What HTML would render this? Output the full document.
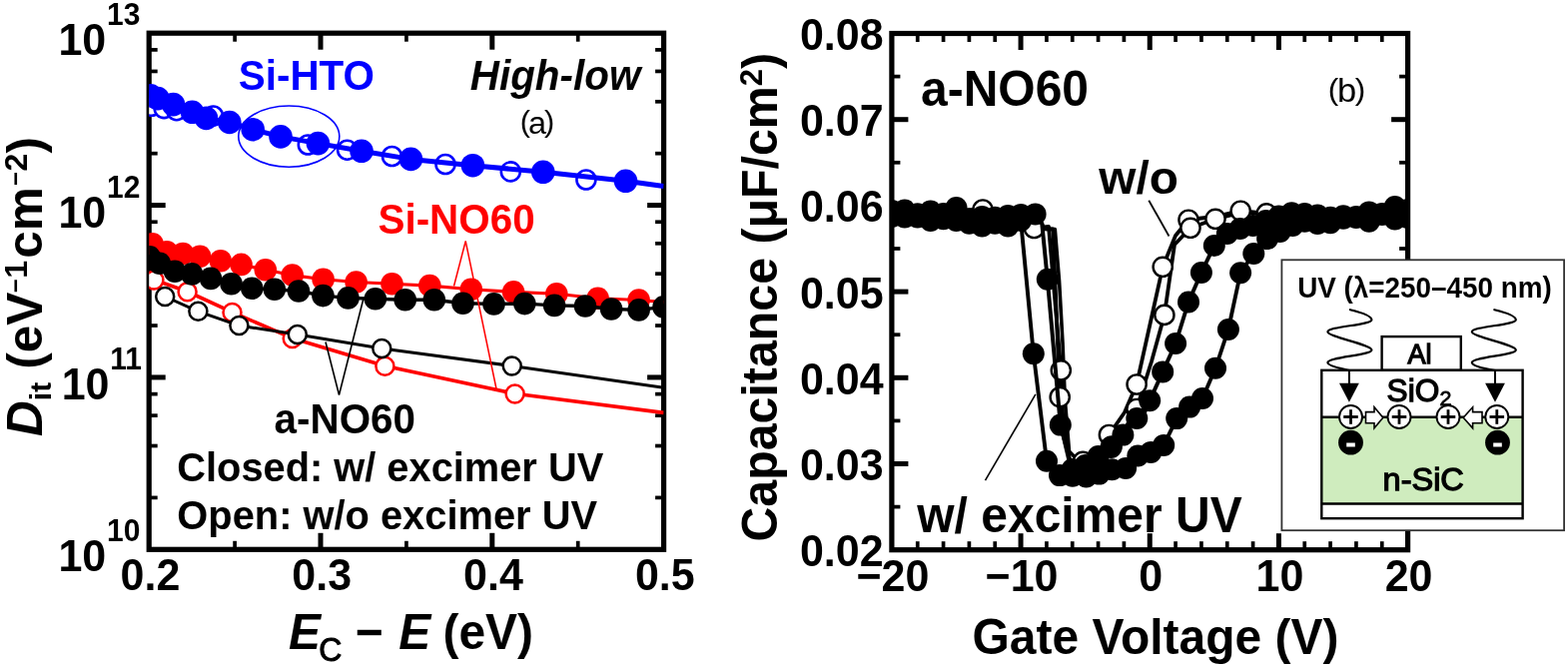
<!DOCTYPE html>
<html lang="en">
<head>
<meta charset="utf-8">
<title>Dit and C-V characteristics</title>
<style>
html,body{margin:0;padding:0;background:#fff;}
body{width:1570px;height:668px;overflow:hidden;}
svg{display:block;font-family:"Liberation Sans", sans-serif;}
text{font-family:"Liberation Sans", sans-serif;}
</style>
</head>
<body>
<svg width="1570" height="668" viewBox="0 0 1570 668">
<rect width="1570" height="668" fill="#fff"/>
<defs><clipPath id="clipL"><rect x="149.2" y="33.2" width="515.40" height="517.10"/></clipPath>
<clipPath id="clipR"><rect x="892.9" y="33.5" width="516.7" height="517.2"/></clipPath></defs>
<line x1="321.00" y1="550.30" x2="321.00" y2="533.80" stroke="#000" stroke-width="5.0" stroke-linecap="butt"/>
<line x1="321.00" y1="33.20" x2="321.00" y2="49.70" stroke="#000" stroke-width="5.0" stroke-linecap="butt"/>
<line x1="492.80" y1="550.30" x2="492.80" y2="533.80" stroke="#000" stroke-width="5.0" stroke-linecap="butt"/>
<line x1="492.80" y1="33.20" x2="492.80" y2="49.70" stroke="#000" stroke-width="5.0" stroke-linecap="butt"/>
<line x1="235.10" y1="550.30" x2="235.10" y2="541.80" stroke="#000" stroke-width="3.7" stroke-linecap="butt"/>
<line x1="235.10" y1="33.20" x2="235.10" y2="41.70" stroke="#000" stroke-width="3.7" stroke-linecap="butt"/>
<line x1="406.90" y1="550.30" x2="406.90" y2="541.80" stroke="#000" stroke-width="3.7" stroke-linecap="butt"/>
<line x1="406.90" y1="33.20" x2="406.90" y2="41.70" stroke="#000" stroke-width="3.7" stroke-linecap="butt"/>
<line x1="578.70" y1="550.30" x2="578.70" y2="541.80" stroke="#000" stroke-width="3.7" stroke-linecap="butt"/>
<line x1="578.70" y1="33.20" x2="578.70" y2="41.70" stroke="#000" stroke-width="3.7" stroke-linecap="butt"/>
<line x1="149.20" y1="498.41" x2="157.70" y2="498.41" stroke="#000" stroke-width="3.7" stroke-linecap="butt"/>
<line x1="664.60" y1="498.41" x2="656.10" y2="498.41" stroke="#000" stroke-width="3.7" stroke-linecap="butt"/>
<line x1="149.20" y1="446.52" x2="157.70" y2="446.52" stroke="#000" stroke-width="3.7" stroke-linecap="butt"/>
<line x1="664.60" y1="446.52" x2="656.10" y2="446.52" stroke="#000" stroke-width="3.7" stroke-linecap="butt"/>
<line x1="149.20" y1="416.17" x2="157.70" y2="416.17" stroke="#000" stroke-width="3.7" stroke-linecap="butt"/>
<line x1="664.60" y1="416.17" x2="656.10" y2="416.17" stroke="#000" stroke-width="3.7" stroke-linecap="butt"/>
<line x1="149.20" y1="394.64" x2="157.70" y2="394.64" stroke="#000" stroke-width="3.7" stroke-linecap="butt"/>
<line x1="664.60" y1="394.64" x2="656.10" y2="394.64" stroke="#000" stroke-width="3.7" stroke-linecap="butt"/>
<line x1="149.20" y1="377.93" x2="165.70" y2="377.93" stroke="#000" stroke-width="5.0" stroke-linecap="butt"/>
<line x1="664.60" y1="377.93" x2="648.10" y2="377.93" stroke="#000" stroke-width="5.0" stroke-linecap="butt"/>
<line x1="149.20" y1="326.05" x2="157.70" y2="326.05" stroke="#000" stroke-width="3.7" stroke-linecap="butt"/>
<line x1="664.60" y1="326.05" x2="656.10" y2="326.05" stroke="#000" stroke-width="3.7" stroke-linecap="butt"/>
<line x1="149.20" y1="274.16" x2="157.70" y2="274.16" stroke="#000" stroke-width="3.7" stroke-linecap="butt"/>
<line x1="664.60" y1="274.16" x2="656.10" y2="274.16" stroke="#000" stroke-width="3.7" stroke-linecap="butt"/>
<line x1="149.20" y1="243.81" x2="157.70" y2="243.81" stroke="#000" stroke-width="3.7" stroke-linecap="butt"/>
<line x1="664.60" y1="243.81" x2="656.10" y2="243.81" stroke="#000" stroke-width="3.7" stroke-linecap="butt"/>
<line x1="149.20" y1="222.27" x2="157.70" y2="222.27" stroke="#000" stroke-width="3.7" stroke-linecap="butt"/>
<line x1="664.60" y1="222.27" x2="656.10" y2="222.27" stroke="#000" stroke-width="3.7" stroke-linecap="butt"/>
<line x1="149.20" y1="205.57" x2="165.70" y2="205.57" stroke="#000" stroke-width="5.0" stroke-linecap="butt"/>
<line x1="664.60" y1="205.57" x2="648.10" y2="205.57" stroke="#000" stroke-width="5.0" stroke-linecap="butt"/>
<line x1="149.20" y1="153.68" x2="157.70" y2="153.68" stroke="#000" stroke-width="3.7" stroke-linecap="butt"/>
<line x1="664.60" y1="153.68" x2="656.10" y2="153.68" stroke="#000" stroke-width="3.7" stroke-linecap="butt"/>
<line x1="149.20" y1="101.79" x2="157.70" y2="101.79" stroke="#000" stroke-width="3.7" stroke-linecap="butt"/>
<line x1="664.60" y1="101.79" x2="656.10" y2="101.79" stroke="#000" stroke-width="3.7" stroke-linecap="butt"/>
<line x1="149.20" y1="71.44" x2="157.70" y2="71.44" stroke="#000" stroke-width="3.7" stroke-linecap="butt"/>
<line x1="664.60" y1="71.44" x2="656.10" y2="71.44" stroke="#000" stroke-width="3.7" stroke-linecap="butt"/>
<line x1="149.20" y1="49.90" x2="157.70" y2="49.90" stroke="#000" stroke-width="3.7" stroke-linecap="butt"/>
<line x1="664.60" y1="49.90" x2="656.10" y2="49.90" stroke="#000" stroke-width="3.7" stroke-linecap="butt"/>
<rect x="149.2" y="33.2" width="515.40" height="517.10" fill="none" stroke="#000" stroke-width="5.2"/>
<g clip-path="url(#clipL)">
<circle cx="152.0" cy="106.3" r="9.5" fill="#fff" stroke="#0000ff" stroke-width="2.6"/>
<circle cx="164.2" cy="108.6" r="9.5" fill="#fff" stroke="#0000ff" stroke-width="2.6"/>
<circle cx="176.8" cy="110.7" r="9.5" fill="#fff" stroke="#0000ff" stroke-width="2.6"/>
<circle cx="213.5" cy="116.0" r="9.5" fill="#fff" stroke="#0000ff" stroke-width="2.6"/>
<circle cx="308.3" cy="145.0" r="9.5" fill="#fff" stroke="#0000ff" stroke-width="2.6"/>
<circle cx="347.6" cy="150.2" r="9.5" fill="#fff" stroke="#0000ff" stroke-width="2.6"/>
<circle cx="392.5" cy="156.5" r="9.5" fill="#fff" stroke="#0000ff" stroke-width="2.6"/>
<circle cx="446.0" cy="164.5" r="9.5" fill="#fff" stroke="#0000ff" stroke-width="2.6"/>
<circle cx="511.3" cy="171.9" r="9.5" fill="#fff" stroke="#0000ff" stroke-width="2.6"/>
<circle cx="586.9" cy="180.0" r="9.5" fill="#fff" stroke="#0000ff" stroke-width="2.6"/>
<polyline points="150.8,95.9 158.0,98.6 173.5,104.6 192.5,112.3 206.5,118.4 229.8,122.5 253.2,129.7 281.0,136.9 318.4,143.6 362.0,151.3 411.4,159.4 473.4,165.7 543.8,172.3 626.5,181.3 664.6,186.5" fill="none" stroke="#0000ff" stroke-width="5.0" stroke-linejoin="round"/>
<circle cx="150.8" cy="95.9" r="11.8" fill="#0000ff"/>
<circle cx="158.0" cy="98.6" r="11.8" fill="#0000ff"/>
<circle cx="173.5" cy="104.6" r="11.8" fill="#0000ff"/>
<circle cx="192.5" cy="112.3" r="11.8" fill="#0000ff"/>
<circle cx="206.5" cy="118.4" r="11.8" fill="#0000ff"/>
<circle cx="229.8" cy="122.5" r="11.8" fill="#0000ff"/>
<circle cx="253.2" cy="129.7" r="11.8" fill="#0000ff"/>
<circle cx="281.0" cy="136.9" r="11.8" fill="#0000ff"/>
<circle cx="318.4" cy="143.6" r="11.8" fill="#0000ff"/>
<circle cx="362.0" cy="151.3" r="11.8" fill="#0000ff"/>
<circle cx="411.4" cy="159.4" r="11.8" fill="#0000ff"/>
<circle cx="473.4" cy="165.7" r="11.8" fill="#0000ff"/>
<circle cx="543.8" cy="172.3" r="11.8" fill="#0000ff"/>
<circle cx="626.5" cy="181.3" r="11.8" fill="#0000ff"/>
<ellipse cx="289.3" cy="136.6" rx="50.5" ry="30.6" fill="none" stroke="#0000ff" stroke-width="1.6"/>
<polyline points="154.4,280.3 187.6,292.0 232.5,312.7 292.7,338.7 385.4,366.5 515.6,394.3 664.6,413.4" fill="none" stroke="#ff0000" stroke-width="3.6" stroke-linejoin="round"/>
<circle cx="154.4" cy="280.6" r="9.0" fill="#fff" stroke="#ff0000" stroke-width="2.5"/>
<circle cx="187.6" cy="292.3" r="9.0" fill="#fff" stroke="#ff0000" stroke-width="2.5"/>
<circle cx="232.5" cy="313.0" r="9.0" fill="#fff" stroke="#ff0000" stroke-width="2.5"/>
<circle cx="292.7" cy="339.0" r="9.0" fill="#fff" stroke="#ff0000" stroke-width="2.5"/>
<circle cx="385.4" cy="366.8" r="9.0" fill="#fff" stroke="#ff0000" stroke-width="2.5"/>
<circle cx="515.6" cy="394.6" r="9.0" fill="#fff" stroke="#ff0000" stroke-width="2.5"/>
<polyline points="165.2,297.0 198.4,311.8 239.4,326.1 297.8,335.1 382.3,348.9 512.7,366.5 664.6,388.2" fill="none" stroke="#000" stroke-width="3.0" stroke-linejoin="round"/>
<circle cx="165.2" cy="297.0" r="9.0" fill="#fff" stroke="#000" stroke-width="2.5"/>
<circle cx="198.4" cy="311.8" r="9.0" fill="#fff" stroke="#000" stroke-width="2.5"/>
<circle cx="239.4" cy="326.1" r="9.0" fill="#fff" stroke="#000" stroke-width="2.5"/>
<circle cx="297.8" cy="335.1" r="9.0" fill="#fff" stroke="#000" stroke-width="2.5"/>
<circle cx="382.3" cy="348.9" r="9.0" fill="#fff" stroke="#000" stroke-width="2.5"/>
<circle cx="512.7" cy="366.5" r="9.0" fill="#fff" stroke="#000" stroke-width="2.5"/>
<polyline points="152.6,244.2 167.0,252.3 183.1,254.1 200.2,256.8 220.9,261.3 241.5,264.9 265.8,270.2 292.7,275.6 323.6,279.8 356.6,282.5 392.5,284.3 430.3,286.1 471.8,289.7 514.1,292.4 557.3,294.2 598.6,298.7 639.6,300.5 664.6,302.6" fill="none" stroke="#ff0000" stroke-width="3.1" stroke-linejoin="round"/>
<circle cx="152.6" cy="244.2" r="11.3" fill="#ff0000"/>
<circle cx="167.0" cy="252.3" r="11.3" fill="#ff0000"/>
<circle cx="183.1" cy="254.1" r="11.3" fill="#ff0000"/>
<circle cx="200.2" cy="256.8" r="11.3" fill="#ff0000"/>
<circle cx="220.9" cy="261.3" r="11.3" fill="#ff0000"/>
<circle cx="241.5" cy="264.9" r="11.3" fill="#ff0000"/>
<circle cx="265.8" cy="270.2" r="11.3" fill="#ff0000"/>
<circle cx="292.7" cy="275.6" r="11.3" fill="#ff0000"/>
<circle cx="323.6" cy="279.8" r="11.3" fill="#ff0000"/>
<circle cx="356.6" cy="282.5" r="11.3" fill="#ff0000"/>
<circle cx="392.5" cy="284.3" r="11.3" fill="#ff0000"/>
<circle cx="430.3" cy="286.1" r="11.3" fill="#ff0000"/>
<circle cx="471.8" cy="289.7" r="11.3" fill="#ff0000"/>
<circle cx="514.1" cy="292.4" r="11.3" fill="#ff0000"/>
<circle cx="557.3" cy="294.2" r="11.3" fill="#ff0000"/>
<circle cx="598.6" cy="298.7" r="11.3" fill="#ff0000"/>
<circle cx="639.6" cy="300.5" r="11.3" fill="#ff0000"/>
<polyline points="149.9,257.4 159.8,263.7 175.0,271.7 192.1,274.4 211.0,278.9 231.6,284.3 252.3,288.8 274.8,289.7 299.0,291.5 323.4,296.1 348.5,298.4 375.8,299.3 405.7,300.2 434.8,300.2 463.5,303.8 494.5,304.4 525.3,304.1 555.1,305.9 586.0,306.5 612.1,309.5 639.6,310.4 664.5,307.4" fill="none" stroke="#000" stroke-width="3.4" stroke-linejoin="round"/>
<circle cx="149.9" cy="257.4" r="11.3" fill="#000"/>
<circle cx="159.8" cy="263.7" r="11.3" fill="#000"/>
<circle cx="175.0" cy="271.7" r="11.3" fill="#000"/>
<circle cx="192.1" cy="274.4" r="11.3" fill="#000"/>
<circle cx="211.0" cy="278.9" r="11.3" fill="#000"/>
<circle cx="231.6" cy="284.3" r="11.3" fill="#000"/>
<circle cx="252.3" cy="288.8" r="11.3" fill="#000"/>
<circle cx="274.8" cy="289.7" r="11.3" fill="#000"/>
<circle cx="299.0" cy="291.5" r="11.3" fill="#000"/>
<circle cx="323.4" cy="296.1" r="11.3" fill="#000"/>
<circle cx="348.5" cy="298.4" r="11.3" fill="#000"/>
<circle cx="375.8" cy="299.3" r="11.3" fill="#000"/>
<circle cx="405.7" cy="300.2" r="11.3" fill="#000"/>
<circle cx="434.8" cy="300.2" r="11.3" fill="#000"/>
<circle cx="463.5" cy="303.8" r="11.3" fill="#000"/>
<circle cx="494.5" cy="304.4" r="11.3" fill="#000"/>
<circle cx="525.3" cy="304.1" r="11.3" fill="#000"/>
<circle cx="555.1" cy="305.9" r="11.3" fill="#000"/>
<circle cx="586.0" cy="306.5" r="11.3" fill="#000"/>
<circle cx="612.1" cy="309.5" r="11.3" fill="#000"/>
<circle cx="639.6" cy="310.4" r="11.3" fill="#000"/>
<circle cx="664.5" cy="307.4" r="11.3" fill="#000"/>
</g>
<polyline points="454.5,286.5 466.2,241.5 497.0,389.5" fill="none" stroke="#ff0000" stroke-width="1.5" stroke-linejoin="miter"/>
<polyline points="326.0,342.5 339.5,395.5 363.8,299.5" fill="none" stroke="#000" stroke-width="1.6" stroke-linejoin="miter"/>
<text transform="translate(58.40 572.30) scale(1 1.035)" font-size="43" font-weight="bold" font-style="normal" text-anchor="start" fill="#000" >10</text>
<text transform="translate(107.00 542.40) scale(1 1.035)" font-size="30" font-weight="bold" font-style="normal" text-anchor="start" fill="#000" >10</text>
<text transform="translate(61.70 399.93) scale(1 1.035)" font-size="43" font-weight="bold" font-style="normal" text-anchor="start" fill="#000" >10</text>
<text transform="translate(110.30 370.03) scale(1 1.035)" font-size="30" font-weight="bold" font-style="normal" text-anchor="start" fill="#000" >11</text>
<text transform="translate(58.40 227.57) scale(1 1.035)" font-size="43" font-weight="bold" font-style="normal" text-anchor="start" fill="#000" >10</text>
<text transform="translate(107.00 197.67) scale(1 1.035)" font-size="30" font-weight="bold" font-style="normal" text-anchor="start" fill="#000" >12</text>
<text transform="translate(58.40 55.20) scale(1 1.035)" font-size="43" font-weight="bold" font-style="normal" text-anchor="start" fill="#000" >10</text>
<text transform="translate(107.00 25.30) scale(1 1.035)" font-size="30" font-weight="bold" font-style="normal" text-anchor="start" fill="#000" >13</text>
<text transform="translate(150.40 591.20) scale(1 1.035)" font-size="43" font-weight="bold" font-style="normal" text-anchor="middle" fill="#000" >0.2</text>
<text transform="translate(322.20 591.20) scale(1 1.035)" font-size="43" font-weight="bold" font-style="normal" text-anchor="middle" fill="#000" >0.3</text>
<text transform="translate(494.00 591.20) scale(1 1.035)" font-size="43" font-weight="bold" font-style="normal" text-anchor="middle" fill="#000" >0.4</text>
<text transform="translate(665.80 591.20) scale(1 1.035)" font-size="43" font-weight="bold" font-style="normal" text-anchor="middle" fill="#000" >0.5</text>
<text transform="translate(41.6 436.9) rotate(-90) scale(1 1.005)" font-size="49.5" font-weight="bold"><tspan font-style="italic">D</tspan><tspan font-size="30" dy="9.8" dx="0">it</tspan><tspan dy="-9.8" dx="-0.6"> (eV</tspan><tspan font-size="24" dy="-17.5" dx="-0.6">−</tspan><tspan font-size="32" dy="2.5" dx="0.5">1</tspan><tspan dy="15" dx="2.2">cm</tspan><tspan font-size="24" dy="-17.5" dx="1.2">−</tspan><tspan font-size="32" dy="2.5" dx="0.5">2</tspan><tspan dy="15" dx="0.2">)</tspan></text>
<text transform="translate(288.9 650.3) scale(1 1.035)" font-size="48" font-weight="bold"><tspan font-style="italic">E</tspan><tspan font-size="32" font-weight="normal" stroke="#000" stroke-width="1.0" dy="11.3" dx="-1.6">C</tspan><tspan dy="-11.3"> − </tspan><tspan font-style="italic" dx="2.2">E</tspan><tspan dx="-1.2"> (eV)</tspan></text>
<text transform="translate(238.80 90.00) scale(1 1.035)" font-size="40.4" font-weight="bold" font-style="normal" text-anchor="start" fill="#0000ff" >Si-HTO</text>
<text transform="translate(470.80 90.00) scale(1 1.035)" font-size="40.4" font-weight="bold" font-style="italic" text-anchor="start" fill="#000" >High-low</text>
<text transform="translate(378.50 234.00) scale(1 1.035)" font-size="40.4" font-weight="bold" font-style="normal" text-anchor="start" fill="#ff0000" >Si-NO60</text>
<text transform="translate(274.60 433.80) scale(1 1.035)" font-size="40.4" font-weight="bold" font-style="normal" text-anchor="start" fill="#000" >a-NO60</text>
<text transform="translate(177.30 482.00) scale(1 1.035)" font-size="39.8" font-weight="bold" font-style="normal" text-anchor="start" fill="#000" >Closed: w/ excimer UV</text>
<text transform="translate(177.30 530.20) scale(1 1.035)" font-size="39.85" font-weight="bold" font-style="normal" text-anchor="start" fill="#000" >Open: w/o excimer UV</text>
<text transform="translate(520.80 131.60) scale(1 0.98)" font-size="30.7" font-weight="normal" font-style="normal" text-anchor="start" fill="#000" >(<tspan font-size="32.5" dy="2.6" dx="-2.0">a</tspan><tspan font-size="30.7" dy="-2.6" dx="-2.0">)</tspan></text>
<line x1="918.74" y1="550.70" x2="918.74" y2="542.20" stroke="#000" stroke-width="3.7" stroke-linecap="butt"/>
<line x1="918.74" y1="33.50" x2="918.74" y2="42.00" stroke="#000" stroke-width="3.7" stroke-linecap="butt"/>
<line x1="944.57" y1="550.70" x2="944.57" y2="542.20" stroke="#000" stroke-width="3.7" stroke-linecap="butt"/>
<line x1="944.57" y1="33.50" x2="944.57" y2="42.00" stroke="#000" stroke-width="3.7" stroke-linecap="butt"/>
<line x1="970.40" y1="550.70" x2="970.40" y2="542.20" stroke="#000" stroke-width="3.7" stroke-linecap="butt"/>
<line x1="970.40" y1="33.50" x2="970.40" y2="42.00" stroke="#000" stroke-width="3.7" stroke-linecap="butt"/>
<line x1="996.24" y1="550.70" x2="996.24" y2="542.20" stroke="#000" stroke-width="3.7" stroke-linecap="butt"/>
<line x1="996.24" y1="33.50" x2="996.24" y2="42.00" stroke="#000" stroke-width="3.7" stroke-linecap="butt"/>
<line x1="1022.07" y1="550.70" x2="1022.07" y2="534.20" stroke="#000" stroke-width="5.0" stroke-linecap="butt"/>
<line x1="1022.07" y1="33.50" x2="1022.07" y2="50.00" stroke="#000" stroke-width="5.0" stroke-linecap="butt"/>
<line x1="1047.91" y1="550.70" x2="1047.91" y2="542.20" stroke="#000" stroke-width="3.7" stroke-linecap="butt"/>
<line x1="1047.91" y1="33.50" x2="1047.91" y2="42.00" stroke="#000" stroke-width="3.7" stroke-linecap="butt"/>
<line x1="1073.74" y1="550.70" x2="1073.74" y2="542.20" stroke="#000" stroke-width="3.7" stroke-linecap="butt"/>
<line x1="1073.74" y1="33.50" x2="1073.74" y2="42.00" stroke="#000" stroke-width="3.7" stroke-linecap="butt"/>
<line x1="1099.58" y1="550.70" x2="1099.58" y2="542.20" stroke="#000" stroke-width="3.7" stroke-linecap="butt"/>
<line x1="1099.58" y1="33.50" x2="1099.58" y2="42.00" stroke="#000" stroke-width="3.7" stroke-linecap="butt"/>
<line x1="1125.41" y1="550.70" x2="1125.41" y2="542.20" stroke="#000" stroke-width="3.7" stroke-linecap="butt"/>
<line x1="1125.41" y1="33.50" x2="1125.41" y2="42.00" stroke="#000" stroke-width="3.7" stroke-linecap="butt"/>
<line x1="1151.25" y1="550.70" x2="1151.25" y2="534.20" stroke="#000" stroke-width="5.0" stroke-linecap="butt"/>
<line x1="1151.25" y1="33.50" x2="1151.25" y2="50.00" stroke="#000" stroke-width="5.0" stroke-linecap="butt"/>
<line x1="1177.09" y1="550.70" x2="1177.09" y2="542.20" stroke="#000" stroke-width="3.7" stroke-linecap="butt"/>
<line x1="1177.09" y1="33.50" x2="1177.09" y2="42.00" stroke="#000" stroke-width="3.7" stroke-linecap="butt"/>
<line x1="1202.92" y1="550.70" x2="1202.92" y2="542.20" stroke="#000" stroke-width="3.7" stroke-linecap="butt"/>
<line x1="1202.92" y1="33.50" x2="1202.92" y2="42.00" stroke="#000" stroke-width="3.7" stroke-linecap="butt"/>
<line x1="1228.75" y1="550.70" x2="1228.75" y2="542.20" stroke="#000" stroke-width="3.7" stroke-linecap="butt"/>
<line x1="1228.75" y1="33.50" x2="1228.75" y2="42.00" stroke="#000" stroke-width="3.7" stroke-linecap="butt"/>
<line x1="1254.59" y1="550.70" x2="1254.59" y2="542.20" stroke="#000" stroke-width="3.7" stroke-linecap="butt"/>
<line x1="1254.59" y1="33.50" x2="1254.59" y2="42.00" stroke="#000" stroke-width="3.7" stroke-linecap="butt"/>
<line x1="1280.42" y1="550.70" x2="1280.42" y2="534.20" stroke="#000" stroke-width="5.0" stroke-linecap="butt"/>
<line x1="1280.42" y1="33.50" x2="1280.42" y2="50.00" stroke="#000" stroke-width="5.0" stroke-linecap="butt"/>
<line x1="1306.26" y1="550.70" x2="1306.26" y2="542.20" stroke="#000" stroke-width="3.7" stroke-linecap="butt"/>
<line x1="1306.26" y1="33.50" x2="1306.26" y2="42.00" stroke="#000" stroke-width="3.7" stroke-linecap="butt"/>
<line x1="1332.09" y1="550.70" x2="1332.09" y2="542.20" stroke="#000" stroke-width="3.7" stroke-linecap="butt"/>
<line x1="1332.09" y1="33.50" x2="1332.09" y2="42.00" stroke="#000" stroke-width="3.7" stroke-linecap="butt"/>
<line x1="1357.93" y1="550.70" x2="1357.93" y2="542.20" stroke="#000" stroke-width="3.7" stroke-linecap="butt"/>
<line x1="1357.93" y1="33.50" x2="1357.93" y2="42.00" stroke="#000" stroke-width="3.7" stroke-linecap="butt"/>
<line x1="1383.76" y1="550.70" x2="1383.76" y2="542.20" stroke="#000" stroke-width="3.7" stroke-linecap="butt"/>
<line x1="1383.76" y1="33.50" x2="1383.76" y2="42.00" stroke="#000" stroke-width="3.7" stroke-linecap="butt"/>
<line x1="892.90" y1="507.60" x2="901.40" y2="507.60" stroke="#000" stroke-width="3.7" stroke-linecap="butt"/>
<line x1="1409.60" y1="507.60" x2="1401.10" y2="507.60" stroke="#000" stroke-width="3.7" stroke-linecap="butt"/>
<line x1="892.90" y1="464.50" x2="909.40" y2="464.50" stroke="#000" stroke-width="5.0" stroke-linecap="butt"/>
<line x1="1409.60" y1="464.50" x2="1393.10" y2="464.50" stroke="#000" stroke-width="5.0" stroke-linecap="butt"/>
<line x1="892.90" y1="421.40" x2="901.40" y2="421.40" stroke="#000" stroke-width="3.7" stroke-linecap="butt"/>
<line x1="1409.60" y1="421.40" x2="1401.10" y2="421.40" stroke="#000" stroke-width="3.7" stroke-linecap="butt"/>
<line x1="892.90" y1="378.30" x2="909.40" y2="378.30" stroke="#000" stroke-width="5.0" stroke-linecap="butt"/>
<line x1="1409.60" y1="378.30" x2="1393.10" y2="378.30" stroke="#000" stroke-width="5.0" stroke-linecap="butt"/>
<line x1="892.90" y1="335.20" x2="901.40" y2="335.20" stroke="#000" stroke-width="3.7" stroke-linecap="butt"/>
<line x1="1409.60" y1="335.20" x2="1401.10" y2="335.20" stroke="#000" stroke-width="3.7" stroke-linecap="butt"/>
<line x1="892.90" y1="292.10" x2="909.40" y2="292.10" stroke="#000" stroke-width="5.0" stroke-linecap="butt"/>
<line x1="1409.60" y1="292.10" x2="1393.10" y2="292.10" stroke="#000" stroke-width="5.0" stroke-linecap="butt"/>
<line x1="892.90" y1="249.00" x2="901.40" y2="249.00" stroke="#000" stroke-width="3.7" stroke-linecap="butt"/>
<line x1="1409.60" y1="249.00" x2="1401.10" y2="249.00" stroke="#000" stroke-width="3.7" stroke-linecap="butt"/>
<line x1="892.90" y1="205.90" x2="909.40" y2="205.90" stroke="#000" stroke-width="5.0" stroke-linecap="butt"/>
<line x1="1409.60" y1="205.90" x2="1393.10" y2="205.90" stroke="#000" stroke-width="5.0" stroke-linecap="butt"/>
<line x1="892.90" y1="162.80" x2="901.40" y2="162.80" stroke="#000" stroke-width="3.7" stroke-linecap="butt"/>
<line x1="1409.60" y1="162.80" x2="1401.10" y2="162.80" stroke="#000" stroke-width="3.7" stroke-linecap="butt"/>
<line x1="892.90" y1="119.70" x2="909.40" y2="119.70" stroke="#000" stroke-width="5.0" stroke-linecap="butt"/>
<line x1="1409.60" y1="119.70" x2="1393.10" y2="119.70" stroke="#000" stroke-width="5.0" stroke-linecap="butt"/>
<line x1="892.90" y1="76.60" x2="901.40" y2="76.60" stroke="#000" stroke-width="3.7" stroke-linecap="butt"/>
<line x1="1409.60" y1="76.60" x2="1401.10" y2="76.60" stroke="#000" stroke-width="3.7" stroke-linecap="butt"/>
<rect x="892.9" y="33.5" width="516.70" height="517.20" fill="none" stroke="#000" stroke-width="5.2"/>
<g clip-path="url(#clipR)">
<polyline points="892.9,212.0 983.3,210.0 1035.4,228.4 1050.0,227.0 1062.3,370.8 1064.5,425.0 1071.0,462.0 1084.2,462.4 1098.0,460.0 1110.4,435.5 1126.0,413.0 1138.1,385.0 1164.2,267.3 1177.0,236.0 1190.0,220.0 1216.0,217.0 1242.0,211.0 1268.0,214.0 1300.0,214.0 1409.6,213.0" fill="none" stroke="#000" stroke-width="3.8" stroke-linejoin="round"/>
<polyline points="892.9,216.0 1035.4,229.0 1054.3,229.5 1061.2,397.7 1063.5,432.0 1071.0,464.0 1084.2,466.0 1099.0,464.0 1113.0,447.0 1126.0,430.0 1138.0,409.5 1153.0,362.0 1165.9,315.4 1176.0,245.0 1192.0,228.3 1217.0,219.3 1242.2,213.0 1268.2,214.0 1409.6,214.0" fill="none" stroke="#000" stroke-width="3.8" stroke-linejoin="round"/>
<polyline points="1035.4,229.0 1056.3,229.5 1060.6,282.0 1064.0,343.0 1066.3,400.0 1070.5,452.0 1084.2,466.0" fill="none" stroke="#000" stroke-width="3.6" stroke-linejoin="round"/>
<circle cx="984.0" cy="210.0" r="9.6" fill="#fff" stroke="#000" stroke-width="2.4"/>
<circle cx="1035.4" cy="228.5" r="9.6" fill="#fff" stroke="#000" stroke-width="2.4"/>
<circle cx="1062.3" cy="370.8" r="9.6" fill="#fff" stroke="#000" stroke-width="2.4"/>
<circle cx="1084.2" cy="462.4" r="9.6" fill="#fff" stroke="#000" stroke-width="2.4"/>
<circle cx="1110.4" cy="435.5" r="9.6" fill="#fff" stroke="#000" stroke-width="2.4"/>
<circle cx="1138.1" cy="385.0" r="9.6" fill="#fff" stroke="#000" stroke-width="2.4"/>
<circle cx="1164.2" cy="267.3" r="9.6" fill="#fff" stroke="#000" stroke-width="2.4"/>
<circle cx="1190.0" cy="220.2" r="9.6" fill="#fff" stroke="#000" stroke-width="2.4"/>
<circle cx="1217.0" cy="219.3" r="9.6" fill="#fff" stroke="#000" stroke-width="2.4"/>
<circle cx="1242.2" cy="211.2" r="9.6" fill="#fff" stroke="#000" stroke-width="2.4"/>
<circle cx="1268.2" cy="213.9" r="9.6" fill="#fff" stroke="#000" stroke-width="2.4"/>
<circle cx="1061.2" cy="397.7" r="9.6" fill="#fff" stroke="#000" stroke-width="2.4"/>
<circle cx="1113.0" cy="447.0" r="9.6" fill="#fff" stroke="#000" stroke-width="2.4"/>
<circle cx="1138.0" cy="409.5" r="9.6" fill="#fff" stroke="#000" stroke-width="2.4"/>
<circle cx="1165.9" cy="315.4" r="9.6" fill="#fff" stroke="#000" stroke-width="2.4"/>
<circle cx="1192.0" cy="228.3" r="9.6" fill="#fff" stroke="#000" stroke-width="2.4"/>
<polyline points="892.9,211.0 905.8,210.6 918.7,214.2 931.7,211.5 944.6,214.0 957.5,208.0 970.4,219.6 983.3,217.0 996.2,217.8 1009.2,216.0 1022.1,215.0 1036.6,214.4 1043.3,224.0 1048.8,279.7 1061.8,425.6 1073.7,470.0 1086.7,466.0 1099.6,457.0 1112.5,448.0 1124.4,435.6 1138.3,419.0 1151.2,401.2 1164.2,372.4 1177.1,344.0 1190.0,302.5 1202.9,273.0 1215.8,246.0 1228.8,234.0 1241.7,229.0 1254.6,226.0 1267.5,221.0 1280.4,216.5 1293.3,213.2 1306.3,214.0 1319.2,215.5 1332.1,217.8 1345.0,216.2 1357.9,217.0 1370.8,212.4 1383.8,214.0 1396.7,207.0 1409.6,210.0" fill="none" stroke="#000" stroke-width="4.0" stroke-linejoin="round"/>
<polyline points="892.9,217.0 905.8,217.4 918.7,217.4 931.7,221.0 944.6,219.2 957.5,221.0 970.4,223.7 983.3,226.4 996.2,223.7 1009.2,226.4 1022.1,221.0 1034.8,354.3 1048.0,461.7 1061.0,476.1 1073.9,476.8 1087.6,477.5 1100.5,474.6 1113.4,470.3 1127.1,468.9 1139.3,456.5 1152.3,452.9 1165.2,445.9 1178.2,419.1 1191.1,407.6 1204.0,399.0 1217.0,368.8 1229.9,330.0 1242.1,273.2 1255.3,254.0 1269.1,239.1 1281.7,231.9 1294.3,226.0 1306.3,221.8 1319.2,224.0 1332.1,223.3 1345.0,218.7 1357.9,218.0 1370.8,221.8 1383.8,214.9 1396.7,219.5 1409.6,218.0" fill="none" stroke="#000" stroke-width="3.9" stroke-linejoin="round"/>
<circle cx="892.9" cy="211.0" r="11.0" fill="#000"/>
<circle cx="905.8" cy="210.6" r="11.0" fill="#000"/>
<circle cx="918.7" cy="214.2" r="11.0" fill="#000"/>
<circle cx="931.7" cy="211.5" r="11.0" fill="#000"/>
<circle cx="944.6" cy="214.0" r="11.0" fill="#000"/>
<circle cx="957.5" cy="208.0" r="11.0" fill="#000"/>
<circle cx="970.4" cy="219.6" r="11.0" fill="#000"/>
<circle cx="983.3" cy="217.0" r="11.0" fill="#000"/>
<circle cx="996.2" cy="217.8" r="11.0" fill="#000"/>
<circle cx="1009.2" cy="216.0" r="11.0" fill="#000"/>
<circle cx="1022.1" cy="215.0" r="11.0" fill="#000"/>
<circle cx="1036.6" cy="214.4" r="11.0" fill="#000"/>
<circle cx="1048.8" cy="279.7" r="11.0" fill="#000"/>
<circle cx="1061.8" cy="425.6" r="11.0" fill="#000"/>
<circle cx="1073.7" cy="470.0" r="11.0" fill="#000"/>
<circle cx="1086.7" cy="466.0" r="11.0" fill="#000"/>
<circle cx="1099.6" cy="457.0" r="11.0" fill="#000"/>
<circle cx="1112.5" cy="448.0" r="11.0" fill="#000"/>
<circle cx="1124.4" cy="435.6" r="11.0" fill="#000"/>
<circle cx="1138.3" cy="419.0" r="11.0" fill="#000"/>
<circle cx="1151.2" cy="401.2" r="11.0" fill="#000"/>
<circle cx="1164.2" cy="372.4" r="11.0" fill="#000"/>
<circle cx="1177.1" cy="344.0" r="11.0" fill="#000"/>
<circle cx="1190.0" cy="302.5" r="11.0" fill="#000"/>
<circle cx="1202.9" cy="273.0" r="11.0" fill="#000"/>
<circle cx="1215.8" cy="246.0" r="11.0" fill="#000"/>
<circle cx="1228.8" cy="234.0" r="11.0" fill="#000"/>
<circle cx="1241.7" cy="229.0" r="11.0" fill="#000"/>
<circle cx="1254.6" cy="226.0" r="11.0" fill="#000"/>
<circle cx="1267.5" cy="221.0" r="11.0" fill="#000"/>
<circle cx="1280.4" cy="216.5" r="11.0" fill="#000"/>
<circle cx="1293.3" cy="213.2" r="11.0" fill="#000"/>
<circle cx="1306.3" cy="214.0" r="11.0" fill="#000"/>
<circle cx="1319.2" cy="215.5" r="11.0" fill="#000"/>
<circle cx="1332.1" cy="217.8" r="11.0" fill="#000"/>
<circle cx="1345.0" cy="216.2" r="11.0" fill="#000"/>
<circle cx="1357.9" cy="217.0" r="11.0" fill="#000"/>
<circle cx="1370.8" cy="212.4" r="11.0" fill="#000"/>
<circle cx="1383.8" cy="214.0" r="11.0" fill="#000"/>
<circle cx="1396.7" cy="207.0" r="11.0" fill="#000"/>
<circle cx="1409.6" cy="210.0" r="11.0" fill="#000"/>
<circle cx="892.9" cy="217.0" r="11.0" fill="#000"/>
<circle cx="905.8" cy="217.4" r="11.0" fill="#000"/>
<circle cx="918.7" cy="217.4" r="11.0" fill="#000"/>
<circle cx="931.7" cy="221.0" r="11.0" fill="#000"/>
<circle cx="944.6" cy="219.2" r="11.0" fill="#000"/>
<circle cx="957.5" cy="221.0" r="11.0" fill="#000"/>
<circle cx="970.4" cy="223.7" r="11.0" fill="#000"/>
<circle cx="983.3" cy="226.4" r="11.0" fill="#000"/>
<circle cx="996.2" cy="223.7" r="11.0" fill="#000"/>
<circle cx="1009.2" cy="226.4" r="11.0" fill="#000"/>
<circle cx="1022.1" cy="221.0" r="11.0" fill="#000"/>
<circle cx="1034.8" cy="354.3" r="11.0" fill="#000"/>
<circle cx="1048.0" cy="461.7" r="11.0" fill="#000"/>
<circle cx="1061.0" cy="476.1" r="11.0" fill="#000"/>
<circle cx="1073.9" cy="476.8" r="11.0" fill="#000"/>
<circle cx="1087.6" cy="477.5" r="11.0" fill="#000"/>
<circle cx="1100.5" cy="474.6" r="11.0" fill="#000"/>
<circle cx="1113.4" cy="470.3" r="11.0" fill="#000"/>
<circle cx="1127.1" cy="468.9" r="11.0" fill="#000"/>
<circle cx="1139.3" cy="456.5" r="11.0" fill="#000"/>
<circle cx="1152.3" cy="452.9" r="11.0" fill="#000"/>
<circle cx="1165.2" cy="445.9" r="11.0" fill="#000"/>
<circle cx="1178.2" cy="419.1" r="11.0" fill="#000"/>
<circle cx="1191.1" cy="407.6" r="11.0" fill="#000"/>
<circle cx="1204.0" cy="399.0" r="11.0" fill="#000"/>
<circle cx="1217.0" cy="368.8" r="11.0" fill="#000"/>
<circle cx="1229.9" cy="330.0" r="11.0" fill="#000"/>
<circle cx="1242.1" cy="273.2" r="11.0" fill="#000"/>
<circle cx="1255.3" cy="254.0" r="11.0" fill="#000"/>
<circle cx="1269.1" cy="239.1" r="11.0" fill="#000"/>
<circle cx="1281.7" cy="231.9" r="11.0" fill="#000"/>
<circle cx="1294.3" cy="226.0" r="11.0" fill="#000"/>
<circle cx="1306.3" cy="221.8" r="11.0" fill="#000"/>
<circle cx="1319.2" cy="224.0" r="11.0" fill="#000"/>
<circle cx="1332.1" cy="223.3" r="11.0" fill="#000"/>
<circle cx="1345.0" cy="218.7" r="11.0" fill="#000"/>
<circle cx="1357.9" cy="218.0" r="11.0" fill="#000"/>
<circle cx="1370.8" cy="221.8" r="11.0" fill="#000"/>
<circle cx="1383.8" cy="214.9" r="11.0" fill="#000"/>
<circle cx="1396.7" cy="219.5" r="11.0" fill="#000"/>
<circle cx="1409.6" cy="218.0" r="11.0" fill="#000"/>
</g>
<line x1="1150.30" y1="200.70" x2="1170.50" y2="236.50" stroke="#000" stroke-width="1.8" stroke-linecap="butt"/>
<line x1="1036.90" y1="394.80" x2="986.50" y2="481.10" stroke="#000" stroke-width="1.6" stroke-linecap="butt"/>
<text transform="translate(884.60 567.20) scale(1 1.035)" font-size="43" font-weight="bold" font-style="normal" text-anchor="end" fill="#000" >0.02</text>
<text transform="translate(884.60 481.00) scale(1 1.035)" font-size="43" font-weight="bold" font-style="normal" text-anchor="end" fill="#000" >0.03</text>
<text transform="translate(884.60 394.80) scale(1 1.035)" font-size="43" font-weight="bold" font-style="normal" text-anchor="end" fill="#000" >0.04</text>
<text transform="translate(884.60 308.60) scale(1 1.035)" font-size="43" font-weight="bold" font-style="normal" text-anchor="end" fill="#000" >0.05</text>
<text transform="translate(884.60 222.40) scale(1 1.035)" font-size="43" font-weight="bold" font-style="normal" text-anchor="end" fill="#000" >0.06</text>
<text transform="translate(884.60 136.20) scale(1 1.035)" font-size="43" font-weight="bold" font-style="normal" text-anchor="end" fill="#000" >0.07</text>
<text transform="translate(884.60 50.00) scale(1 1.035)" font-size="43" font-weight="bold" font-style="normal" text-anchor="end" fill="#000" >0.08</text>
<text transform="translate(893.90 592.20) scale(1 1.035)" font-size="43" font-weight="bold" font-style="normal" text-anchor="middle" fill="#000" >−20</text>
<text transform="translate(1023.07 592.20) scale(1 1.035)" font-size="43" font-weight="bold" font-style="normal" text-anchor="middle" fill="#000" >−10</text>
<text transform="translate(1152.25 592.20) scale(1 1.035)" font-size="43" font-weight="bold" font-style="normal" text-anchor="middle" fill="#000" >0</text>
<text transform="translate(1281.42 592.20) scale(1 1.035)" font-size="43" font-weight="bold" font-style="normal" text-anchor="middle" fill="#000" >10</text>
<text transform="translate(1410.60 592.20) scale(1 1.035)" font-size="43" font-weight="bold" font-style="normal" text-anchor="middle" fill="#000" >20</text>
<text transform="translate(777.8 542.5) rotate(-90) scale(1 1.035)" font-size="48.3" font-weight="bold">Capacitance (μF/cm<tspan font-size="31" dy="-14.5">2</tspan><tspan dy="14.5">)</tspan></text>
<text transform="translate(973.50 655.00) scale(1 1.035)" font-size="48" font-weight="bold" font-style="normal" text-anchor="start" fill="#000" >Gate Voltage (V)</text>
<text transform="translate(922.00 105.60) scale(1 1.035)" font-size="48" font-weight="bold" font-style="normal" text-anchor="start" fill="#000" >a-NO60</text>
<text transform="translate(1100.30 193.80) scale(1 0.965)" font-size="47.8" font-weight="bold" font-style="normal" text-anchor="start" fill="#000" >w/o</text>
<text transform="translate(918.30 532.50) scale(1 1.035)" font-size="48" font-weight="bold" font-style="normal" text-anchor="start" fill="#000" >w/ excimer UV</text>
<text transform="translate(1329.70 100.20) scale(1 0.95)" font-size="31.5" font-weight="normal" font-style="normal" text-anchor="start" fill="#000" >(<tspan font-size="34.5" dy="2.0" dx="-1.3">b</tspan><tspan font-size="31.5" dy="-2.0" dx="-1.3">)</tspan></text>
<rect x="1283.4" y="260.3" width="282.7" height="270.9" fill="#fff" stroke="#333" stroke-width="1.8"/>
<text transform="translate(1299.20 297.60) scale(1 1.035)" font-size="27.85" font-weight="bold" font-style="normal" text-anchor="start" fill="#000" >UV (λ=250–450 nm)</text>
<rect x="1323.3" y="370.8" width="201.3" height="148.4" fill="#fff" stroke="none"/>
<rect x="1323.3" y="417.8" width="201.3" height="86.7" fill="#cfecbe"/>
<rect x="1383.6" y="337.1" width="79.2" height="33.7" fill="#fff" stroke="#000" stroke-width="2.4"/>
<rect x="1323.3" y="370.8" width="201.3" height="148.4" fill="none" stroke="#000" stroke-width="2.4"/>
<line x1="1323.30" y1="417.80" x2="1524.60" y2="417.80" stroke="#000" stroke-width="2.4" stroke-linecap="butt"/>
<line x1="1323.30" y1="504.50" x2="1524.60" y2="504.50" stroke="#000" stroke-width="2.4" stroke-linecap="butt"/>
<text transform="translate(1421.60 363.60) scale(1 1.035)" font-size="27.0" font-weight="normal" font-style="normal" text-anchor="middle" fill="#000" stroke="#000" stroke-width="1.3">Al</text>
<text transform="translate(1388.6 402.1) scale(1 0.97)" font-size="31.6" font-weight="normal" stroke="#000" stroke-width="1.3">SiO<tspan font-size="21.5" dy="4.2" dx="0.3" stroke-width="0.8">2</tspan></text>
<text transform="translate(1425.20 490.50) scale(1 0.98)" font-size="32.5" font-weight="normal" font-style="normal" text-anchor="middle" fill="#000" stroke="#000" stroke-width="1.3">n-SiC</text>
<path d="M1351.9,310.2 C1365.4,313.5 1373.4,316.5 1373.4,320.2 C1373.4,325.5 1329.4,327 1329.4,332.3 C1329.4,337.5 1373.4,345 1373.4,350.5 C1373.4,355.8 1329.4,357.5 1329.4,363.1 C1329.4,366.5 1343.4,369.5 1350.9,371" fill="none" stroke="#000" stroke-width="2.2" stroke-linecap="round"/>
<line x1="1350.90" y1="371.00" x2="1350.90" y2="386.00" stroke="#000" stroke-width="2.0" stroke-linecap="butt"/>
<polygon points="1341.0,383.8 1360.8,383.8 1350.9,402.8" fill="#000"/>
<path d="M1496.3,310.2 C1509.8,313.5 1517.8,316.5 1517.8,320.2 C1517.8,325.5 1473.8,327 1473.8,332.3 C1473.8,337.5 1517.8,345 1517.8,350.5 C1517.8,355.8 1473.8,357.5 1473.8,363.1 C1473.8,366.5 1487.8,369.5 1497.0,371" fill="none" stroke="#000" stroke-width="2.2" stroke-linecap="round"/>
<line x1="1497.00" y1="371.00" x2="1497.00" y2="386.00" stroke="#000" stroke-width="2.0" stroke-linecap="butt"/>
<polygon points="1487.1,383.8 1506.9,383.8 1497.0,402.8" fill="#000"/>
<circle cx="1352.5" cy="417.5" r="11.5" fill="#fff" stroke="#000" stroke-width="1.9"/>
<line x1="1345.20" y1="417.50" x2="1359.80" y2="417.50" stroke="#000" stroke-width="2.8" stroke-linecap="butt"/>
<line x1="1352.50" y1="410.20" x2="1352.50" y2="424.80" stroke="#000" stroke-width="2.8" stroke-linecap="butt"/>
<circle cx="1401.0" cy="417.5" r="11.5" fill="#fff" stroke="#000" stroke-width="1.9"/>
<line x1="1393.70" y1="417.50" x2="1408.30" y2="417.50" stroke="#000" stroke-width="2.8" stroke-linecap="butt"/>
<line x1="1401.00" y1="410.20" x2="1401.00" y2="424.80" stroke="#000" stroke-width="2.8" stroke-linecap="butt"/>
<circle cx="1450.0" cy="417.5" r="11.5" fill="#fff" stroke="#000" stroke-width="1.9"/>
<line x1="1442.70" y1="417.50" x2="1457.30" y2="417.50" stroke="#000" stroke-width="2.8" stroke-linecap="butt"/>
<line x1="1450.00" y1="410.20" x2="1450.00" y2="424.80" stroke="#000" stroke-width="2.8" stroke-linecap="butt"/>
<circle cx="1498.8" cy="417.5" r="11.5" fill="#fff" stroke="#000" stroke-width="1.9"/>
<line x1="1491.50" y1="417.50" x2="1506.10" y2="417.50" stroke="#000" stroke-width="2.8" stroke-linecap="butt"/>
<line x1="1498.80" y1="410.20" x2="1498.80" y2="424.80" stroke="#000" stroke-width="2.8" stroke-linecap="butt"/>
<circle cx="1352.5" cy="443.2" r="12.4" fill="#000"/>
<line x1="1348.20" y1="445.50" x2="1356.80" y2="445.50" stroke="#fff" stroke-width="4.0" stroke-linecap="butt"/>
<circle cx="1499.5" cy="443.2" r="12.4" fill="#000"/>
<line x1="1495.20" y1="445.50" x2="1503.80" y2="445.50" stroke="#fff" stroke-width="4.0" stroke-linecap="butt"/>
<polygon points="1367.5,412.6 1376,412.6 1376,407.8 1384.8,418.2 1376,428.8 1376,423.8 1367.5,423.8" fill="#fff" stroke="#000" stroke-width="1.6" stroke-linejoin="miter"/>
<polygon points="1484,412.6 1474.6,412.6 1474.6,407.8 1465.2,418.2 1474.6,428.8 1474.6,423.8 1484,423.8" fill="#fff" stroke="#000" stroke-width="1.6" stroke-linejoin="miter"/>
</svg>
</body>
</html>
